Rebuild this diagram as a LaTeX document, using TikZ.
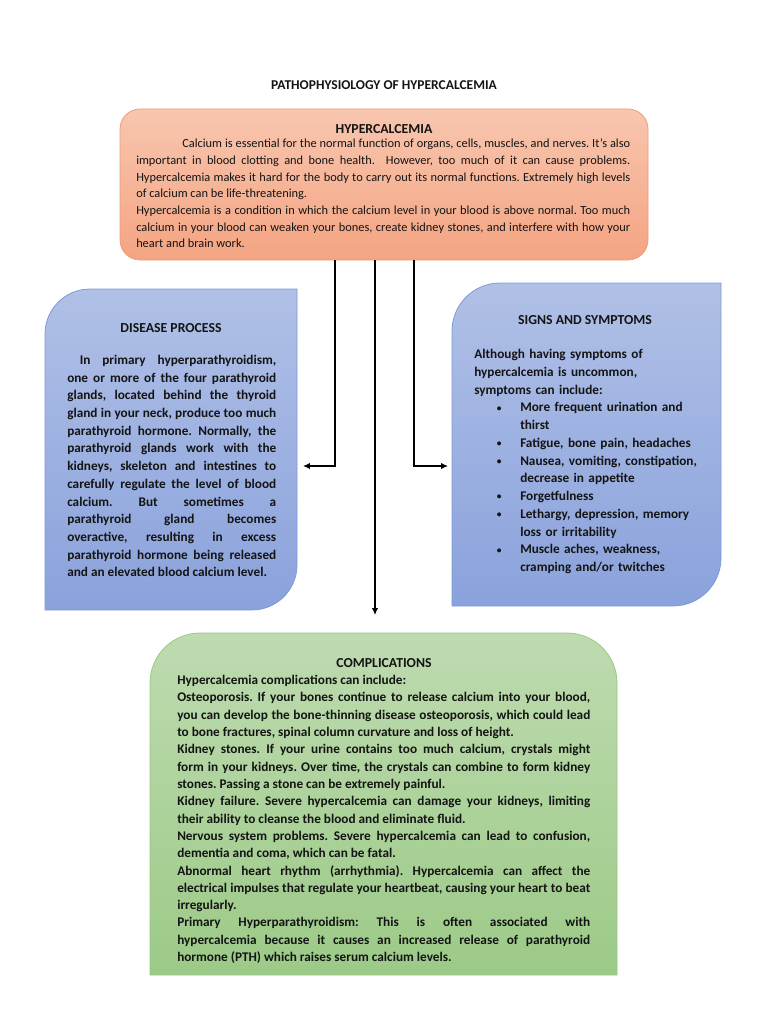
\documentclass[tikz,border=0pt]{standalone}
\usepackage{fontspec}
\setmainfont{Carlito}
\usetikzlibrary{arrows.meta}
\definecolor{tTop}{HTML}{F8C6AF}
\definecolor{tBot}{HTML}{F4A482}
\definecolor{tLine}{HTML}{EE9B76}
\definecolor{bTop}{HTML}{B0C0E6}
\definecolor{bBot}{HTML}{8AA2DC}
\definecolor{bLine}{HTML}{7E98D6}
\definecolor{gTop}{HTML}{BEDBB0}
\definecolor{gBot}{HTML}{9CCA87}
\definecolor{gLine}{HTML}{98C683}
\definecolor{txt}{HTML}{141414}
\newcommand\mydiagshape[3]{%
\path[#3] (#1.south west) -- ([shift={(0,#2)}]#1.north west)
 .. controls ([shift={(0,0.448*#2)}]#1.north west) and ([shift={(0.448*#2,0)}]#1.north west) .. ([shift={(#2,0)}]#1.north west)
 -- (#1.north east) -- ([shift={(0,-#2)}]#1.south east)
 .. controls ([shift={(0,-0.448*#2)}]#1.south east) and ([shift={(-0.448*#2,0)}]#1.south east) .. ([shift={(-#2,0)}]#1.south east)
 -- cycle;}
\newcommand\sitem{\par\hangindent=36.8pt\hangafter=0\noindent\llap{\raisebox{0.6pt}{\fontsize{7.5}{8}\selectfont\textbullet}\hspace{15pt}}}
\tikzset{
 holder/.style={inner sep=0pt, outer sep=0pt, draw=none},
 salmonbox/.style={top color=tTop, bottom color=tBot, draw=tLine, line width=0.6pt},
 bluebox/.style={top color=bTop, bottom color=bBot, draw=bLine, line width=0.6pt},
 greenbox/.style={top color=gTop, bottom color=gBot, draw=gLine, line width=0.6pt},
 headtxt/.style={font=\bfseries\fontsize{11}{13}\selectfont, inner sep=0pt, text=txt},
 bodytxt/.style={inner sep=0pt, anchor=north west, text=txt},
 conn/.style={draw=black, line width=0.9pt, -{Latex[length=5.5pt,width=5pt]}},
}
\begin{document}
\frenchspacing
\begin{tikzpicture}[x=0.8pt,y=-0.8pt]
\useasboundingbox (0,0) rectangle (768,1024);
% box holders
\node[holder, minimum width=422.4pt, minimum height=120.8pt] (T) at (384,184.5) {};
\node[holder, minimum width=201.6pt, minimum height=256.8pt] (L) at (171,449.5) {};
\node[holder, minimum width=215.2pt, minimum height=258.4pt] (R) at (586.5,444.5) {};
\node[holder, minimum width=373.6pt, minimum height=273.6pt] (B) at (383.5,804) {};
% shapes
\path[salmonbox, rounded corners=16pt] (T.north west) rectangle (T.south east);
\mydiagshape{L}{45}{bluebox}
\mydiagshape{R}{48}{bluebox}
\path[greenbox] (B.south west) -- ([shift={(0,50)}]B.north west)
 .. controls ([shift={(0,22.4)}]B.north west) and ([shift={(22.4,0)}]B.north west) .. ([shift={(50,0)}]B.north west)
 -- ([shift={(-50,0)}]B.north east)
 .. controls ([shift={(-22.4,0)}]B.north east) and ([shift={(0,22.4)}]B.north east) .. ([shift={(0,50)}]B.north east)
 -- (B.south east) -- cycle;
% title
\node[headtxt, font=\bfseries\fontsize{10.8}{13}\selectfont] (title) at (384,85) {PATHOPHYSIOLOGY OF HYPERCALCEMIA};
% top box
\node[headtxt] (th) at (384,129) {HYPERCALCEMIA};
\node[bodytxt, text width=395.2pt, align=justify, font=\fontsize{9.9}{13.3}\selectfont] (tb) at (136,139) {\tolerance=10000\hbadness=10000
\noindent\hspace*{36.8pt}Calcium is essential for the normal function of organs, cells, muscles, and nerves. It’s also\linebreak
important in blood clotting and bone health.\ \ However, too much of it can cause problems.\linebreak
Hypercalcemia makes it hard for the body to carry out its normal functions. Extremely high levels\linebreak
of calcium can be life-threatening.\par\noindent
Hypercalcemia is a condition in which the calcium level in your blood is above normal. Too much\linebreak
calcium in your blood can weaken your bones, create kidney stones, and interfere with how your\linebreak
heart and brain work.};
% left box
\node[headtxt] (lh) at (171,328) {DISEASE PROCESS};
\node[bodytxt, text width=167.2pt, align=justify, font=\bfseries\fontsize{10.6}{14.15}\selectfont] (lb) at (67,355) {\tolerance=10000\hbadness=10000
\noindent\hspace*{10pt}In primary hyperparathyroidism,\linebreak
one or more of the four parathyroid\linebreak
glands, located behind the thyroid\linebreak
gland in your neck, produce too much\linebreak
parathyroid hormone. Normally, the\linebreak
parathyroid glands work with the\linebreak
kidneys, skeleton and intestines to\linebreak
carefully regulate the level of blood\linebreak
calcium. But sometimes a\linebreak
parathyroid gland becomes\linebreak
overactive, resulting in excess\linebreak
parathyroid hormone being released\linebreak
and an elevated blood calcium level.};
% right box
\node[headtxt] (rh) at (585,320) {SIGNS AND SYMPTOMS};
\node[bodytxt, text width=200pt, align=left, font=\bfseries\fontsize{10.6}{14.2}\selectfont] (rb) at (474,349) {\noindent
Although having symptoms of\newline
hypercalcemia is uncommon,\newline
symptoms can include:
\sitem More frequent urination and\newline thirst
\sitem Fatigue, bone pain, headaches
\sitem Nausea, vomiting, constipation,\newline decrease in appetite
\sitem Forgetfulness
\sitem Lethargy, depression, memory\newline loss or irritability
\sitem Muscle aches, weakness,\newline cramping and/or twitches\par};
% bottom box
\node[headtxt] (bh) at (384,663) {COMPLICATIONS};
\node[bodytxt, text width=330.4pt, align=justify, font=\bfseries\fontsize{10.6}{13.85}\selectfont] (bb) at (177,675) {\tolerance=10000\hbadness=10000
\noindent Hypercalcemia complications can include:\par\noindent
Osteoporosis. If your bones continue to release calcium into your blood,\linebreak
you can develop the bone-thinning disease osteoporosis, which could lead\linebreak
to bone fractures, spinal column curvature and loss of height.\par\noindent
Kidney stones. If your urine contains too much calcium, crystals might\linebreak
form in your kidneys. Over time, the crystals can combine to form kidney\linebreak
stones. Passing a stone can be extremely painful.\par\noindent
Kidney failure. Severe hypercalcemia can damage your kidneys, limiting\linebreak
their ability to cleanse the blood and eliminate fluid.\par\noindent
Nervous system problems. Severe hypercalcemia can lead to confusion,\linebreak
dementia and coma, which can be fatal.\par\noindent
Abnormal heart rhythm (arrhythmia). Hypercalcemia can affect the\linebreak
electrical impulses that regulate your heartbeat, causing your heart to beat\linebreak
irregularly.\par\noindent
Primary Hyperparathyroidism: This is often associated with\linebreak
hypercalcemia because it causes an increased release of parathyroid\linebreak
hormone (PTH) which raises serum calcium levels.};
% connectors
\coordinate (j1) at (335,466);
\coordinate (j2) at (414,466);
\coordinate (j3) at (375,466);
\draw[conn, shorten >=4.8pt] (T.south -| j1) |- (L.east |- j1);
\draw[conn, shorten >=3.2pt] (T.south -| j2) |- (R.west |- j2);
\draw[conn, shorten >=14.4pt] (T.south -| j3) -- (B.north -| j3);
\end{tikzpicture}
\end{document}
